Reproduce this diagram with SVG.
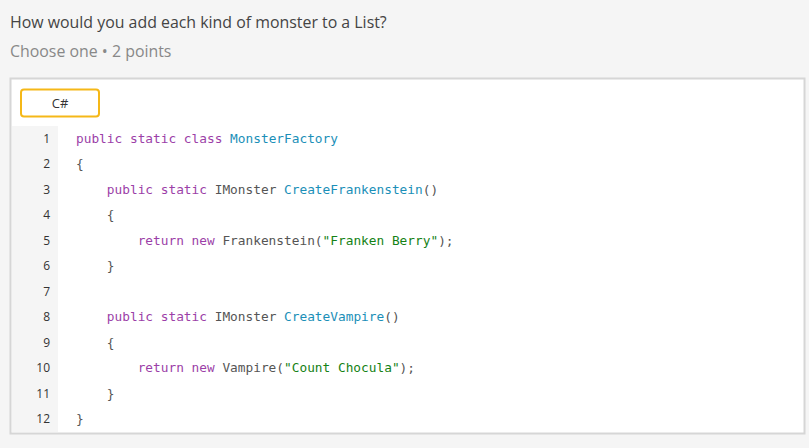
<svg xmlns="http://www.w3.org/2000/svg" width="809" height="448" viewBox="0 0 809 448">
<style>
.h{font-family:"Open Sans","Noto Sans",sans-serif}
.c{font-family:"DejaVu Sans Mono","Liberation Mono",monospace;font-size:12.8px;fill:#555;white-space:pre}
.k{fill:#9c3fa8}.t{fill:#1b8fb8}.s{fill:#158215}
.n{font-family:"Open Sans",sans-serif;font-size:12px;fill:#333;text-anchor:end}
</style>
<rect width="809" height="448" fill="#f5f5f5"/>
<text x="10" y="28" class="h" font-size="15.9" fill="#444">How would you add each kind of monster to a List?</text>
<text x="10" y="57" class="h" font-size="15.9" fill="#888">Choose one • 2 points</text>
<g id="panel">
<rect x="10.5" y="78.5" width="794" height="355" fill="#fff" stroke="#d6d6d6" stroke-width="2"/>
<rect x="12" y="126" width="46" height="306" fill="#f5f5f5"/>
</g>
<g id="tab">
<rect x="21" y="89.5" width="78" height="27" rx="3" fill="#fff" stroke="#f5b818" stroke-width="2"/>
<text x="60" y="108" class="h" font-size="13" fill="#333" text-anchor="middle">C#</text>
</g>
<g id="lines">
<text x="50" y="143" class="n">1</text>
<text x="50" y="168" class="n">2</text>
<text x="50" y="194" class="n">3</text>
<text x="50" y="219" class="n">4</text>
<text x="50" y="245" class="n">5</text>
<text x="50" y="270" class="n">6</text>
<text x="50" y="296" class="n">7</text>
<text x="50" y="321" class="n">8</text>
<text x="50" y="347" class="n">9</text>
<text x="50" y="372" class="n">10</text>
<text x="50" y="398" class="n">11</text>
<text x="50" y="423" class="n">12</text>
</g>
<g id="code">
<text x="76" y="143" class="c"><tspan class="k">public static class</tspan> <tspan class="t">MonsterFactory</tspan></text>
<text x="76" y="168" class="c">{</text>
<text x="76" y="194" class="c">    <tspan class="k">public static</tspan> IMonster <tspan class="t">CreateFrankenstein</tspan>()</text>
<text x="76" y="219" class="c">    {</text>
<text x="76" y="245" class="c">        <tspan class="k">return new</tspan> Frankenstein(<tspan class="s">"Franken Berry"</tspan>);</text>
<text x="76" y="270" class="c">    }</text>
<text x="76" y="321" class="c">    <tspan class="k">public static</tspan> IMonster <tspan class="t">CreateVampire</tspan>()</text>
<text x="76" y="347" class="c">    {</text>
<text x="76" y="372" class="c">        <tspan class="k">return new</tspan> Vampire(<tspan class="s">"Count Chocula"</tspan>);</text>
<text x="76" y="398" class="c">    }</text>
<text x="76" y="423" class="c">}</text>
</g>
</svg>
